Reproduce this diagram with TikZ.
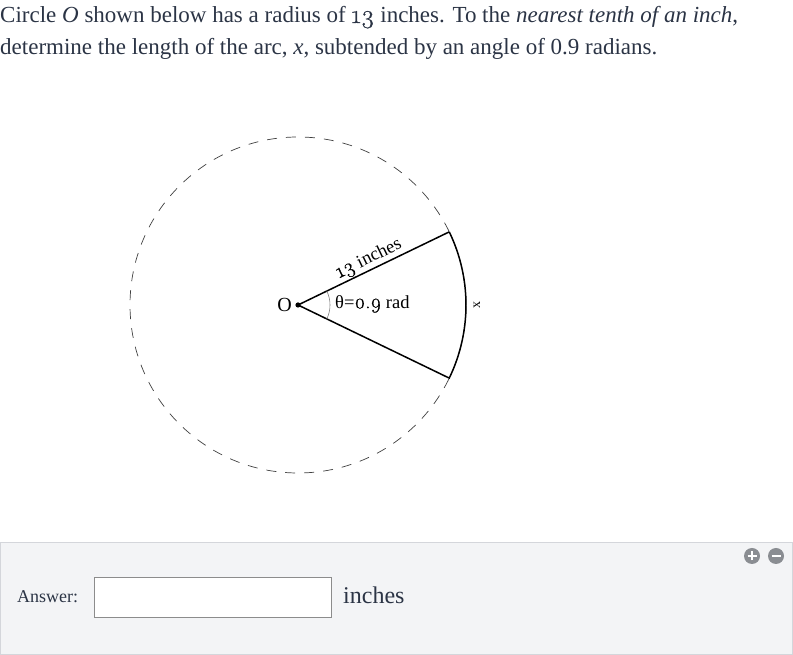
\documentclass[tikz,border=0pt]{standalone}
\usepackage{fontspec}
\setmainfont{Liberation Serif}
\newfontfamily\osf{Latin Modern Roman}[Numbers=OldStyle,FakeBold=0.8,Scale=1.12]
\usetikzlibrary{calc}
\definecolor{txt}{HTML}{2B3445}
\definecolor{panel}{HTML}{F3F4F6}
\definecolor{panelline}{HTML}{D4D6DB}
\definecolor{iconc}{HTML}{8A8D92}
\begin{document}
\begin{tikzpicture}[x=1pt,y=1pt,
  titletext/.style={anchor=base west,inner sep=0pt,font=\fontsize{23}{25}\selectfont,text=txt},
  dashcircle/.style={draw=black!75,line width=0.7pt,dash pattern=on 10pt off 9pt},
  sector/.style={draw=black,line width=1.5pt,line join=miter},
  lbl/.style={inner sep=1pt,font=\fontsize{18.5}{19}\selectfont,text=black},
  iconbtn/.style={circle,fill=iconc,minimum size=16pt,inner sep=0pt}]
\useasboundingbox (0,0) rectangle (793,655);
% title
\node[titletext] (t1) at (0,632) {Circle \textit{O} shown below has a radius of {\osf 13} inches. To the \textit{nearest tenth of an inch},};
\node[titletext] (t2) at (0,600) {determine the length of the arc, \textit{x}, subtended by an angle of 0.9 radians.};
% circle
\coordinate (O) at (298,350);
\draw[dashcircle] (O) circle (168);
\coordinate (A) at ($(O)+(25.8:168)$);
\coordinate (B) at ($(O)+(-25.8:168)$);
\draw[sector] (A) -- (O) -- (B) arc (-25.8:25.8:168);
\draw[gray,line width=0.6pt] ($(O)+(25.8:32)$) arc (25.8:-25.8:32);
\fill (O) circle (2.6);
\node[lbl,anchor=east,font=\fontsize{20}{20}\selectfont] (Olbl) at (293,350) {O};
\path (O) -- (A) node[lbl,midway,above=0.5pt,sloped] (rlbl) {{\osf 13} inches};
\node[lbl,anchor=west] (th) at (334,351) {θ={\osf 0.9} rad};
\node[lbl,rotate=90,font=\fontsize{14}{14}\selectfont] (xl) at (477,350) {x};
% answer panel
\draw[draw=panelline,fill=panel] (0.5,1) rectangle (792.5,113);
\node[anchor=west,inner sep=0pt,font=\fontsize{18}{18}\selectfont,text=txt] (ans) at (17,58) {Answer:};
\draw[draw=gray!90,fill=white,line width=0.8pt] (94.5,37.5) rectangle (331.5,77.5);
\node[anchor=west,inner sep=0pt,font=\fontsize{24}{24}\selectfont,text=txt] (inch) at (343,60) {inches};
\node[iconbtn] (plus) at (752,99) {};
\node[iconbtn] (minus) at (776,99) {};
\draw[white,line width=2.2pt] ($(plus)+(-4.5,0)$) -- ($(plus)+(4.5,0)$);
\draw[white,line width=2.2pt] ($(plus)+(0,-4.5)$) -- ($(plus)+(0,4.5)$);
\draw[white,line width=2.2pt] ($(minus)+(-4.5,0)$) -- ($(minus)+(4.5,0)$);
\end{tikzpicture}
\end{document}
